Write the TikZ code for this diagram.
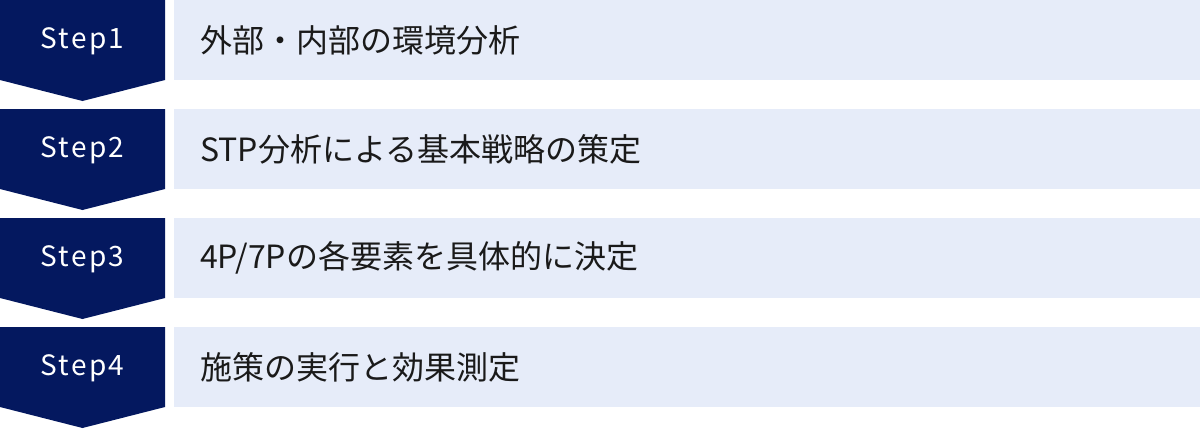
\documentclass[tikz,border=0pt]{standalone}
\usepackage{fontspec}
\newfontfamily\jpfont{Noto Sans CJK JP}
\newfontfamily\stepfont[LetterSpace=8]{Noto Sans CJK JP}
\usetikzlibrary{positioning}
\definecolor{navy}{HTML}{04185F}
\definecolor{paleblue}{HTML}{E6ECF9}
\definecolor{ink}{HTML}{1A1A1A}

\begin{document}
\begin{tikzpicture}[x=1pt,y=1pt,
		steplab/.style={text=white,font=\stepfont\fontsize{28}{32}\selectfont,inner sep=0pt},
		chev/.style={fill=navy,draw=none},
		band/.style={fill=paleblue,draw=none,minimum width=1026pt,minimum height=80pt,
			inner xsep=26pt,inner ysep=0pt,text width=974pt,align=left,anchor=north west,
			text=ink,font=\jpfont\fontsize{32}{36}\selectfont}
		]
		
		% --- canvas
		\useasboundingbox (0,0) rectangle (1200,-429);
		
		% --- chevrons on the left
		\foreach \t in {0,109,218,327}{
			\fill[chev] (0,-\t) -- (165,-\t) -- (165,-\t-80)
			-- (82.5,-\t-101) -- (0,-\t-80) -- cycle;
		}
		
		\node[steplab] (s1) at (82.5,-41) {Step1};
		\node[steplab] (s2) at (82.5,-150) {Step2};
		\node[steplab] (s3) at (82.5,-259) {Step3};
		\node[steplab] (s4) at (82.5,-368) {Step4};
		
		% --- text bands on the right
		\node[band] (b1) at (174,0) {外部・内部の環境分析};
		\node[band] (b2) at (174,-109) {STP分析による基本戦略の策定};
		\node[band] (b3) at (174,-218) {4P/7Pの各要素を具体的に決定};
		\node[band] (b4) at (174,-327) {施策の実行と効果測定};
		
	\end{tikzpicture}
\end{document}
